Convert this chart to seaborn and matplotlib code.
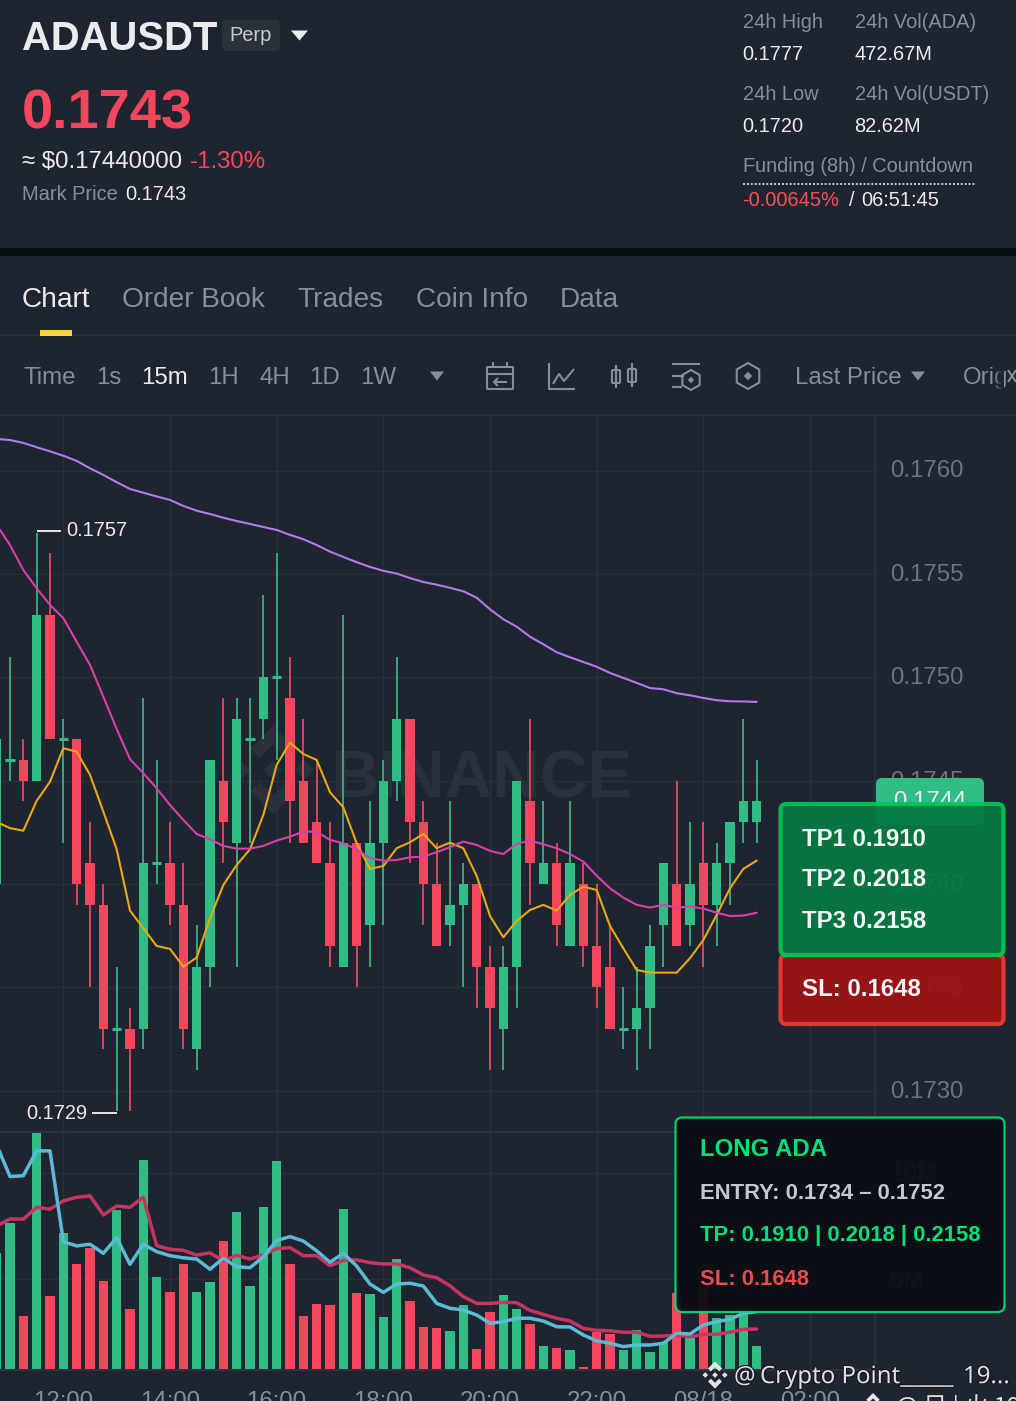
import numpy as np
import pandas as pd
import matplotlib
matplotlib.use("Agg")
import matplotlib.pyplot as plt
import matplotlib.patheffects as pe
import seaborn as sns
from matplotlib.patches import FancyBboxPatch, Polygon, Rectangle
from matplotlib.transforms import ScaledTranslation

# candles, prices in units of 0.0001
opens = [1740, 1746, 1746, 1745, 1753, 1747, 1747, 1741, 1739, 1733,
         1733, 1733, 1741, 1741, 1739, 1732, 1736, 1745, 1742, 1747,
         1748, 1750, 1749, 1745, 1743, 1741, 1736, 1742, 1738, 1742,
         1745, 1748, 1743, 1740, 1738, 1739, 1740, 1736, 1733, 1736,
         1744, 1740, 1741, 1737, 1740, 1737, 1736, 1733, 1733, 1734,
         1738, 1740, 1738, 1741, 1739, 1741, 1743, 1743]
closes = [1747, 1746, 1745, 1753, 1747, 1747, 1740, 1739, 1733, 1733,
          1732, 1741, 1741, 1739, 1733, 1736, 1746, 1743, 1748, 1747,
          1750, 1750, 1744, 1742, 1741, 1737, 1742, 1737, 1742, 1745,
          1748, 1743, 1740, 1737, 1739, 1740, 1736, 1734, 1736, 1745,
          1741, 1741, 1738, 1741, 1737, 1735, 1733, 1733, 1734, 1737,
          1741, 1737, 1740, 1739, 1741, 1743, 1744, 1744]
highs = [1747, 1751, 1747, 1757, 1756, 1748, 1747, 1743, 1740, 1736,
         1734, 1749, 1746, 1743, 1741, 1738, 1746, 1749, 1749, 1749,
         1754, 1756, 1751, 1748, 1746, 1743, 1753, 1742, 1744, 1746,
         1751, 1748, 1744, 1742, 1744, 1741, 1740, 1737, 1737, 1745,
         1748, 1744, 1742, 1744, 1741, 1740, 1738, 1735, 1736, 1738,
         1741, 1745, 1743, 1743, 1742, 1743, 1748, 1746]
lows = [1740, 1745, 1744, 1745, 1747, 1742, 1739, 1735, 1732, 1729,
        1729, 1732, 1740, 1738, 1732, 1731, 1735, 1741, 1736, 1742,
        1747, 1746, 1742, 1742, 1741, 1736, 1736, 1735, 1736, 1738,
        1744, 1741, 1738, 1737, 1737, 1735, 1734, 1731, 1731, 1734,
        1739, 1740, 1737, 1737, 1736, 1734, 1733, 1732, 1731, 1732,
        1736, 1737, 1737, 1736, 1737, 1739, 1742, 1742]

ma7 = [1743.00, 1742.70, 1742.58, 1744.02, 1744.95, 1746.57, 1746.40, 1745.28, 1743.50, 1741.68,
       1738.71, 1737.86, 1737.00, 1736.86, 1736.00, 1736.44, 1738.34, 1739.95, 1740.92, 1741.68,
       1743.34, 1745.76, 1746.84, 1746.29, 1746.00, 1744.44, 1743.71, 1741.97, 1740.73, 1740.87,
       1741.73, 1742.02, 1742.42, 1741.73, 1742.00, 1741.73, 1740.39, 1738.45, 1737.42, 1738.21,
       1738.74, 1738.99, 1738.71, 1739.47, 1739.87, 1739.71, 1737.97, 1736.89, 1735.84, 1735.71,
       1735.71, 1735.71, 1736.41, 1737.29, 1738.50, 1739.79, 1740.73, 1741.13]
ma25 = [1757.37, 1756.40, 1755.19, 1754.31, 1753.50, 1752.86, 1751.72, 1750.60, 1749.06, 1747.50,
        1746.04, 1745.36, 1744.63, 1743.82, 1743.10, 1742.42, 1742.16, 1741.84, 1741.71, 1741.71,
        1741.84, 1742.10, 1742.29, 1742.53, 1742.53, 1742.13, 1741.97, 1741.68, 1741.25, 1741.13,
        1741.16, 1741.29, 1741.32, 1741.54, 1741.78, 1742.05, 1741.89, 1741.60, 1741.45, 1741.94,
        1742.10, 1741.92, 1741.73, 1741.45, 1741.08, 1740.40, 1739.79, 1739.34, 1738.99, 1738.86,
        1738.99, 1738.86, 1738.90, 1738.81, 1738.61, 1738.45, 1738.47, 1738.61]
ma99 = [1761.53, 1761.48, 1761.34, 1761.13, 1760.93, 1760.72, 1760.47, 1760.11, 1759.79, 1759.44,
        1759.11, 1758.93, 1758.75, 1758.58, 1758.29, 1758.06, 1757.90, 1757.72, 1757.56, 1757.42,
        1757.27, 1757.13, 1756.89, 1756.68, 1756.40, 1756.08, 1755.82, 1755.57, 1755.34, 1755.15,
        1755.02, 1754.80, 1754.61, 1754.48, 1754.33, 1754.16, 1753.85, 1753.29, 1752.81, 1752.45,
        1751.96, 1751.60, 1751.21, 1750.97, 1750.74, 1750.51, 1750.21, 1749.97, 1749.73, 1749.48,
        1749.42, 1749.23, 1749.13, 1749.00, 1748.89, 1748.84, 1748.83, 1748.81]

# volume in millions
volumes = [6.21, 7.66, 3.27, 11.87, 4.21, 7.16, 5.72, 6.45, 4.91, 8.25,
           3.58, 10.63, 5.08, 4.40, 5.69, 4.39, 4.87, 6.81, 8.16, 4.68,
           8.38, 10.57, 5.71, 3.27, 3.81, 3.77, 8.32, 4.33, 4.31, 3.22,
           5.94, 3.98, 2.74, 2.70, 2.55, 3.76, 1.71, 3.46, 4.25, 3.58,
           2.88, 1.84, 1.73, 1.65, 0.85, 2.49, 2.42, 1.65, 2.59, 1.57,
           2.04, 4.33, 2.20, 4.72, 3.15, 3.30, 3.58, 1.84]
vol_ma5 = [11.32, 9.83, 9.87, 11.04, 11.04, 6.76, 6.56, 6.64, 6.21, 6.95,
           5.69, 6.64, 6.29, 6.10, 6.00, 5.94, 5.46, 5.98, 5.58, 5.53,
           6.05, 6.81, 7.00, 6.79, 6.33, 5.79, 6.21, 5.61, 4.76, 4.37,
           4.76, 4.80, 4.67, 3.85, 3.62, 3.54, 3.30, 2.91, 2.99, 3.15,
           3.15, 3.02, 2.75, 2.74, 2.36, 2.08, 1.97, 1.81, 1.89, 1.89,
           1.97, 2.44, 2.41, 2.83, 2.99, 3.10, 3.38, 3.46]
vol_ma10 = [7.50, 7.83, 7.82, 8.38, 8.29, 8.68, 8.85, 8.92, 8.02, 8.44,
            8.38, 8.85, 6.57, 6.40, 6.35, 6.13, 6.23, 5.85, 6.12, 5.94,
            6.13, 6.43, 6.48, 6.10, 6.10, 5.63, 5.88, 5.90, 5.77, 5.71,
            5.71, 5.53, 5.19, 5.06, 4.68, 4.17, 3.85, 3.85, 3.90, 3.88,
            3.52, 3.33, 3.15, 3.02, 2.67, 2.58, 2.56, 2.49, 2.49, 2.30,
            2.31, 2.36, 2.28, 2.39, 2.39, 2.49, 2.63, 2.64]

price_ticks = [0.1730, 0.1735, 0.1740, 0.1745, 0.1750, 0.1755, 0.1760]
time_labels = ["12:00", "14:00", "16:00", "18:00", "20:00", "22:00", "08/18", "02:00"]
time_ticks = [5, 13, 21, 29, 37, 45, 53, 61]

BG = "#1F2530"
GRID = "#2A303A"
LINE = "#2E343E"
GREY = "#848E9C"
DIM = "#6B7380"
WHITE = "#EAECEF"
UP = "#2EBD85"
DOWN = "#F6465D"

W, H = 1016, 1401
AXIS_X = 875

sns.set_theme(style="dark", rc={"axes.facecolor": "none", "figure.facecolor": BG})
plt.rcParams["font.family"] = ["Liberation Sans", "DejaVu Sans"]

fig = plt.figure(figsize=(W / 100, H / 100), dpi=100)


def pixel_axes(zorder):
    a = fig.add_axes([0, 0, 1, 1], zorder=zorder, facecolor="none")
    a.set_xlim(0, W)
    a.set_ylim(H, 0)
    a.axis("off")
    return a


def panel(top, bottom):
    return fig.add_axes([0, 1 - bottom / H, AXIS_X / W, (bottom - top) / H])


under = pixel_axes(-1)
ax = panel(415, 1132)
ax_vol = panel(1132, 1370)
ui = pixel_axes(10)

idx = np.arange(len(opens))
o = np.array(opens) / 1e4
c = np.array(closes) / 1e4
hi = np.array(highs) / 1e4
lo = np.array(lows) / 1e4
is_up = c >= o
colors = np.where(is_up, UP, DOWN)

# candles
ax.vlines(idx, lo, hi, colors=colors, lw=1.25, zorder=2)
ax.bar(idx, np.abs(c - o), bottom=np.minimum(o, c), width=0.7, color=colors, linewidth=0, zorder=2)
doji = o == c
ax.hlines(c[doji], idx[doji] - 0.35, idx[doji] + 0.35, colors=colors[doji], lw=2.2, zorder=2)

for values, color in [(ma7, "#E9A90F"), (ma25, "#DB3DAB"), (ma99, "#B07CEC")]:
    sns.lineplot(x=idx, y=np.array(values) / 1e4, color=color, lw=1.5, ax=ax, zorder=3)

# high / low markers
ax.hlines(0.17571, 3, 4.85, color="#E6E8EA", lw=1.4)
ax.text(5.2, 0.17571, "0.1757", color=WHITE, fontsize=14.4, va="center")
ax.hlines(0.17289, 7.15, 9, color="#E6E8EA", lw=1.4)
ax.text(6.8, 0.17289, "0.1729", color=WHITE, fontsize=14.4, va="center", ha="right")

ax.set_xlim(0.25, 65.875)
ax.set_ylim(0.17280, 0.176269)
ax.yaxis.tick_right()
ax.set_yticks(price_ticks, [f"{t:.4f}" for t in price_ticks])
ax.tick_params(axis="y", length=0, pad=11, labelsize=17.3, labelcolor=DIM)
ax.set_xticks(time_ticks, [])
ax.tick_params(axis="x", length=0)
ax.grid(True, color=GRID, lw=1)
ax.set_axisbelow(True)

# volume
vol_df = pd.DataFrame({"i": idx, "volume": volumes, "side": np.where(is_up, "up", "down")})
sns.barplot(data=vol_df, x="i", y="volume", hue="side", palette={"up": UP, "down": DOWN},
            native_scale=True, dodge=False, width=0.7, saturation=1, linewidth=0,
            legend=False, ax=ax_vol, zorder=2)
sns.lineplot(x=idx, y=vol_ma10, color="#C9345F", lw=2.5, ax=ax_vol, zorder=3)
sns.lineplot(x=idx, y=vol_ma5, color="#5BBAD5", lw=2.5, ax=ax_vol, zorder=4)
ax_vol.set_xlim(0.25, 65.875)
ax_vol.set_ylim(0.71, 11.93)
ax_vol.set_xlabel("")
ax_vol.set_ylabel("")
ax_vol.yaxis.tick_right()
ax_vol.set_yticks([5, 10], ["5M", "10M"])
ax_vol.tick_params(axis="y", length=0, pad=11, labelsize=17.3, labelcolor=DIM)
ax_vol.set_xticks(time_ticks, time_labels)
ax_vol.tick_params(axis="x", length=0, pad=15, labelsize=17.3, labelcolor=GREY)
ax_vol.grid(True, color=GRID, lw=1)
ax_vol.set_axisbelow(True)

# price labels sit a little above their grid lines
lift = ScaledTranslation(0, 1.6 / 100, fig.dpi_scale_trans)
for t in ax.get_yticklabels():
    t.set_transform(t.get_transform() + lift)

for a in (ax, ax_vol):
    for side in ("top", "left"):
        a.spines[side].set_visible(False)
    a.spines["right"].set_color(LINE)
    a.spines["right"].set_linewidth(1.2)
    a.spines["bottom"].set_color(LINE)
    a.spines["bottom"].set_linewidth(1.5)


def label(x, y, s, px, color=GREY, weight="normal", ha="left", family=None, zorder=5, target=None, **kw):
    (target or ui).text(x, y + 0.34 * px, s, fontsize=px * 0.72, color=color, fontweight=weight, ha=ha,
                        va="baseline", family=family, zorder=zorder, **kw)


def rbox(x0, y0, x1, y1, r, face, edge="none", lw=0, alpha=None, zorder=3):
    ui.add_patch(FancyBboxPatch((x0, y0), x1 - x0, y1 - y0, boxstyle=f"round,pad=0,rounding_size={r}",
                                fc=face, ec=edge, lw=lw, alpha=alpha, zorder=zorder))


def stroke(xs, ys, color=GREY, lw=1.5, zorder=5):
    ui.plot(xs, ys, color=color, lw=lw, solid_capstyle="butt", zorder=zorder)


def triangle(cx, cy, w, h, color):
    ui.add_patch(Polygon([(cx - w / 2, cy - h / 2), (cx + w / 2, cy - h / 2), (cx, cy + h / 2)], fc=color, ec="none"))


def hexagon(cx, cy, r, color):
    pts = [(cx + r * np.sin(a), cy - r * np.cos(a)) for a in np.radians(np.arange(0, 361, 60))]
    ui.plot(*zip(*pts), color=color, lw=1.5, zorder=5)
    ui.add_patch(Polygon([(cx - r * .33, cy), (cx, cy - r * .33), (cx + r * .33, cy), (cx, cy + r * .33)],
                         fc=color, ec="none", zorder=5))


def logo(target, cx, cy, s, color, zorder=1):
    def add(pts):
        target.add_patch(Polygon([(cx + s * px, cy + s * py) for px, py in pts], fc=color, ec="none", zorder=zorder))
    chevron = [(0, -1), (.52, -.48), (.31, -.27), (0, -.58), (-.31, -.27), (-.52, -.48)]
    add(chevron)
    add([(px, -py) for px, py in chevron])
    for dx in (-.72, 0, .72):
        add([(dx - .21, 0), (dx, -.21), (dx + .21, 0), (dx, .21)])


# chart watermark, under the candles
logo(under, 273, 770, 44, "#2B313B")
label(482, 775, "BINANCE", 66, "#2B313B", "bold", ha="center", target=under)

# header
label(22, 36, "ADAUSDT", 40, WHITE, "bold")
rbox(222, 20, 280, 51, 5, "#2B3139")
label(229, 34, "Perp", 20, "#C7CBD1")
triangle(299.5, 35.5, 17, 10, WHITE)
label(22, 109, "0.1743", 56, DOWN, "bold")
label(22, 160, "≈ $0.17440000", 24, WHITE)
label(190, 160, "-1.30%", 24, DOWN)
label(22, 193, "Mark Price", 20)
label(125.5, 193, "0.1743", 20, WHITE)
label(743, 21, "24h High", 20)
label(742.5, 53, "0.1777", 20, WHITE)
label(855, 21, "24h Vol(ADA)", 20)
label(854.5, 53, "472.67M", 20, WHITE)
label(743, 93, "24h Low", 20)
label(742.5, 125, "0.1720", 20, WHITE)
label(855, 93, "24h Vol(USDT)", 20)
label(854.5, 125, "82.62M", 20, WHITE)
label(743, 165, "Funding (8h) / Countdown", 20)
ui.plot([743, 975], [184, 184], color="#C8CCD0", lw=1.4, ls=(0, (1, 1)))
label(742.5, 199, "-0.00645%", 20, "#F8504E")
label(849, 199, "/", 20, WHITE)
label(861, 199, "06:51:45", 20, WHITE)
ui.add_patch(Rectangle((0, 248), W, 8, fc="#0B0E11", ec="none"))

# tabs
label(22, 297, "Chart", 28, WHITE)
for x, s in [(122, "Order Book"), (297, "Trades"), (416, "Coin Info"), (560, "Data")]:
    label(x, 297, s, 28)
stroke([0, W], [335, 335], LINE, 1.2)
ui.add_patch(Rectangle((40, 330), 32, 6, fc="#FCD535", ec="none", zorder=6))

# toolbar
for x, s, col in [(24, "Time", GREY), (96, "1s", GREY), (141, "15m", WHITE), (208, "1H", GREY), (259, "4H", GREY),
                  (309, "1D", GREY), (360, "1W", GREY), (795, "Last Price", GREY), (963, "Orig", GREY)]:
    label(x, 376, s, 24, col)
stroke([1008, 1016], [370, 382], GREY)
stroke([1008, 1016], [382, 370], GREY)
# the tab strip fades out over the end of "Orig"
for x0, a in [(994, 0.3), (998, 0.55), (1001, 0.8)]:
    ui.add_patch(Rectangle((x0, 360), 1004 - x0, 34, fc=BG, ec="none", alpha=a, zorder=6))
triangle(437, 376, 14, 9, GREY)
triangle(918, 376, 14, 9, GREY)
stroke([0, W], [415, 415], LINE, 1.2)

# calendar icon
rbox(487, 367, 513, 389, 1, "none", GREY, 1.5, zorder=5)
stroke([487, 513], [374, 374])
stroke([493, 493], [362, 367])
stroke([507, 507], [362, 367])
stroke([507, 494], [382, 382])
stroke([498, 494, 498], [378, 382, 386])
# indicator icon
stroke([549, 549, 575], [363, 389, 389])
stroke([553, 559, 564, 574], [384, 374, 381, 369])
# candle icon
rbox(612, 370, 620, 383, 1, "none", GREY, 1.5, zorder=5)
rbox(628, 369, 636, 382, 1, "none", GREY, 1.5, zorder=5)
stroke([616, 616], [365, 388])
stroke([632, 632], [363, 387])
# settings icon
stroke([672, 700], [364, 364])
stroke([672, 684], [376, 376])
stroke([672, 682], [387, 387])
hexagon(691, 380, 10, GREY)
# hexagon icon
hexagon(748, 376, 13, GREY)

# last price tag and the two pasted cards
rbox(876, 778, 984, 825, 6, UP, zorder=3)
label(930, 800, "0.1744", 24, WHITE, ha="center", zorder=4)
rbox(780.5, 955, 1003.5, 1024, 6, "#9C1414", "#E53935", 3, alpha=0.96, zorder=6)
rbox(780.5, 804, 1003.5, 955, 6, "#067A42", "#00C853", 3, alpha=0.93, zorder=7)
label(802, 838, "TP1 0.1910", 24, "#F5F7F6", "bold", zorder=8)
label(802, 878, "TP2 0.2018", 24, "#F5F7F6", "bold", zorder=8)
label(802, 920, "TP3 0.2158", 24, "#F5F7F6", "bold", zorder=8)
label(802, 988, "SL: 0.1648", 24, "#F5F7F6", "bold", zorder=8)

rbox(675.5, 1117.5, 1004.5, 1312, 7, "#0A0D14", "#00DC78", 1.6, alpha=0.94, zorder=6)
label(700, 1148, "LONG ADA", 24, "#00E07A", "bold", zorder=8)
label(700, 1192, "ENTRY: 0.1734 – 0.1752", 22, "#C4C8CE", "bold", zorder=8)
label(700, 1234, "TP: 0.1910 | 0.2018 | 0.2158", 22, "#00E07A", "bold", zorder=8)
label(700, 1278, "SL: 0.1648", 22, "#F04A50", "bold", zorder=8)

# share watermark at the foot
shadow = [pe.withStroke(linewidth=1.6, foreground="#14181F")]
logo(ui, 715, 1375, 13.5, "#E2E4E6", zorder=8)
label(734, 1375, "@", 24, "#DDDFE2", family="Noto Sans", zorder=8, path_effects=shadow)
label(760, 1375, "Crypto Point_____", 24, "#DDDFE2", family="Noto Sans", zorder=8, path_effects=shadow)
label(963, 1375, "19...", 24, "#DDDFE2", family="Noto Sans", zorder=8, path_effects=shadow)
logo(ui, 873, 1406, 13, "#E2E4E6", zorder=8)
label(895, 1406, "@ 日 | 火 1916", 24, "#DDDFE2", family=["Noto Sans CJK SC", "DejaVu Sans"], zorder=8)

fig.savefig("out.png", dpi=100, facecolor=BG)
